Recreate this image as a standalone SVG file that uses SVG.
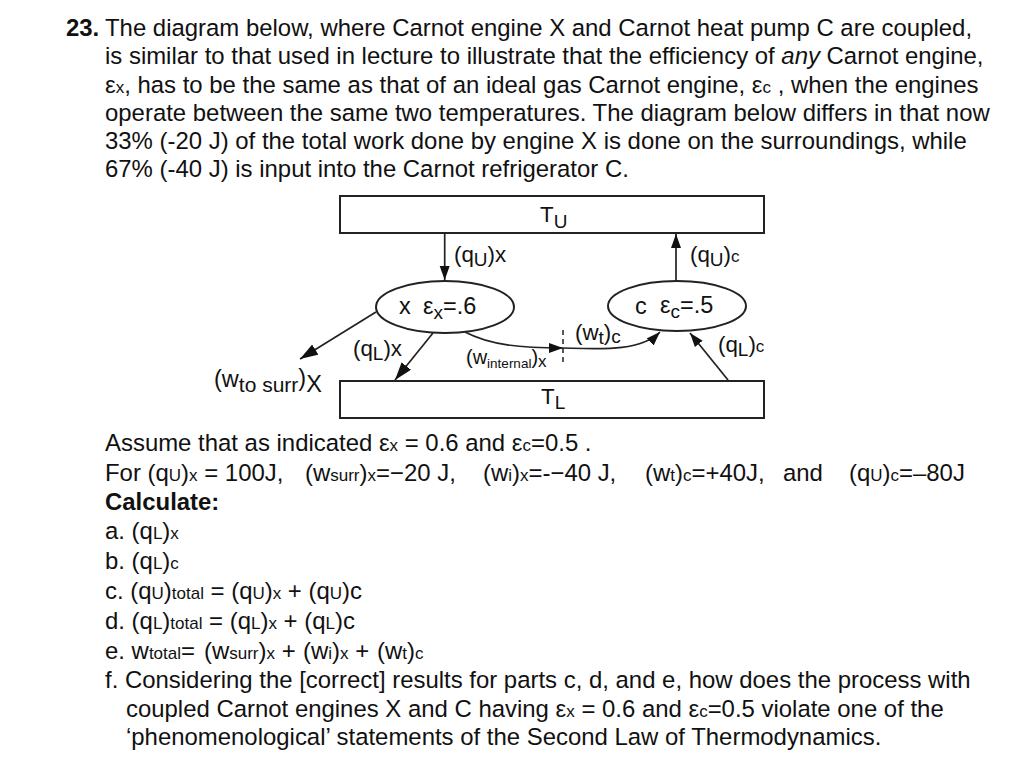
<svg xmlns="http://www.w3.org/2000/svg" width="1024" height="783" viewBox="0 0 1024 783">
<style>
text{font-family:"Liberation Sans",Arial,sans-serif;fill:#111}
.t{font-size:23.93px}
.b{font-weight:bold}
.s{font-size:17px}
.d{font-size:22.3px}
.u{font-size:19px}
.g{font-size:23.5px}
.h{font-size:20px}
.l{fill:none;stroke:#222;stroke-width:1.7}
.box{fill:#fff;stroke:#222;stroke-width:2}
.e{fill:#fff;stroke:#222;stroke-width:2}
</style>
<defs>
<marker id="a" markerUnits="userSpaceOnUse" markerWidth="16" markerHeight="12" refX="14" refY="5" orient="auto"><path d="M0 0L14 5L0 10Z" fill="#111"/></marker>
<marker id="w" markerUnits="userSpaceOnUse" markerWidth="20" markerHeight="14" refX="18" refY="6" orient="auto"><path d="M0 0L18 6L0 12Z" fill="#111"/></marker>
</defs>
<rect width="1024" height="783" fill="#fff"/>
<g id="question">
<text class="t b" x="66" y="36">23.</text>
<text class="t" x="105" y="36">The diagram below, where Carnot engine X and Carnot heat pump C are coupled,</text>
<text class="t" x="105" y="64">is similar to that used in lecture to illustrate that the efficiency of <tspan font-style="italic">any</tspan> Carnot engine,</text>
<text class="t" x="105" y="93">ε<tspan class="s">x</tspan>, has to be the same as that of an ideal gas Carnot engine, ε<tspan class="s">c</tspan> , when the engines</text>
<text class="t" x="105" y="121">operate between the same two temperatures. The diagram below differs in that now</text>
<text class="t" x="105" y="149">33% (-20 J) of the total work done by engine X is done on the surroundings, while</text>
<text class="t" x="105" y="177">67% (-40 J) is input into the Carnot refrigerator C.</text>
</g>
<g id="connectors">
<path class="l" d="M444.700 234V280" marker-end="url(#a)"/>
<path class="l" d="M676 281V234" marker-end="url(#a)"/>
<path class="l" d="M376 312L300 359" marker-end="url(#w)"/>
<path class="l" d="M433 333L395 380" marker-end="url(#w)"/>
<path class="l" d="M465 332C490 345 520 348 563 348" marker-end="url(#a)"/>
<path class="l" d="M563 348C600 349 640 352 660 332" marker-end="url(#a)"/>
<path class="l" d="M728 380L690 333" marker-end="url(#a)"/>
<path d="M563 330V366" fill="none" stroke="#222" stroke-width="1.500" stroke-dasharray="5 4"/>
</g>
<g id="upper-reservoir"><rect class="box" x="340" y="196" width="424" height="37"/><text class="d" x="540" y="222">T<tspan class="u" dy="6">U</tspan></text></g>
<g id="lower-reservoir"><rect class="box" x="340" y="381" width="424" height="37"/><text class="d" x="541" y="404">T<tspan class="u" dy="5">L</tspan></text></g>
<g id="engine-x"><ellipse class="e" cx="445" cy="307" rx="69" ry="26"/><text class="g" x="399" y="314">x</text><text class="g" x="423" y="314">ε<tspan class="u" dy="5">x</tspan><tspan dy="-5">=.6</tspan></text></g>
<g id="pump-c"><ellipse class="e" cx="677" cy="306" rx="69" ry="25"/><text class="g" x="635" y="314">c</text><text class="g" x="660" y="313">ε<tspan class="u" dy="5">c</tspan><tspan dy="-5">=.5</tspan></text></g>
<g id="labels">
<text class="d" x="454" y="262">(q<tspan class="u" dy="4">U</tspan><tspan dy="-4">)x</tspan></text>
<text class="d" x="690" y="262">(q<tspan class="u" dy="4">U</tspan><tspan dy="-4">)</tspan><tspan class="s">c</tspan></text>
<text class="d" x="353" y="356">(q<tspan class="u" dy="4">L</tspan><tspan dy="-4">)x</tspan></text>
<text class="d" x="718" y="352">(q<tspan class="u" dy="4">L</tspan><tspan dy="-4">)</tspan><tspan class="s">c</tspan></text>
<text class="h" x="466" y="364">(w<tspan font-size="13.500" dy="4">internal</tspan><tspan dy="-4">)</tspan><tspan class="s" dy="3">x</tspan></text>
<text class="d" x="575" y="340">(w<tspan class="u" dy="4">t</tspan><tspan dy="-4">)</tspan><tspan class="u" dy="3">c</tspan></text>
<text class="g" x="214" y="387">(w<tspan class="u" style="font-size:21px" dy="5">to surr</tspan><tspan dy="-6">)</tspan><tspan dy="6">X</tspan></text>
</g>
<g id="text-below">
<text class="t" x="105" y="451">Assume that as indicated ε<tspan class="s">x</tspan> = 0.6 and ε<tspan class="s">c</tspan>=0.5 .</text>
<text class="t" x="105" y="481">For (q<tspan class="s">U</tspan>)<tspan class="s">x</tspan> = 100J,<tspan x="305">(w</tspan><tspan class="s">surr</tspan>)<tspan class="s">x</tspan>=−20 J,<tspan x="483">(w</tspan><tspan class="s">i</tspan>)<tspan class="s">x</tspan>=-−40 J,<tspan x="645">(w</tspan><tspan class="s">t</tspan>)<tspan class="s">c</tspan>=+40J,<tspan x="783">and</tspan><tspan x="849">(q</tspan><tspan class="s">U</tspan>)<tspan class="s">c</tspan>=–80J</text>
<text class="t b" x="105" y="510">Calculate:</text>
<text class="t" x="105" y="539">a. (q<tspan class="s">L</tspan>)<tspan class="s">x</tspan></text>
<text class="t" x="105" y="569">b. (q<tspan class="s">L</tspan>)<tspan class="s">c</tspan></text>
<text class="t" x="105" y="599">c. (q<tspan class="s">U</tspan>)<tspan class="s">total</tspan> = (q<tspan class="s">U</tspan>)<tspan class="s">x</tspan> + (q<tspan class="s">U</tspan>)c</text>
<text class="t" x="105" y="629">d. (q<tspan class="s">L</tspan>)<tspan class="s">total</tspan> = (q<tspan class="s">L</tspan>)<tspan class="s">x</tspan> + (q<tspan class="s">L</tspan>)c</text>
<text class="t" x="105" y="659">e. w<tspan class="s">total</tspan>=<tspan x="204">(w</tspan><tspan class="s">surr</tspan>)<tspan class="s">x</tspan> +<tspan x="303">(w</tspan><tspan class="s">i</tspan>)<tspan class="s">x</tspan> +<tspan x="377">(w</tspan><tspan class="s">t</tspan>)<tspan class="s">c</tspan></text>
<text class="t" x="105" y="688">f. Considering the [correct] results for parts c, d, and e, how does the process with</text>
<text class="t" x="126" y="717">coupled Carnot engines X and C having ε<tspan class="s">x</tspan> = 0.6 and ε<tspan class="s">c</tspan>=0.5 violate one of the</text>
<text class="t" x="126" y="745">‘phenomenological’ statements of the Second Law of Thermodynamics.</text>
</g>
</svg>
